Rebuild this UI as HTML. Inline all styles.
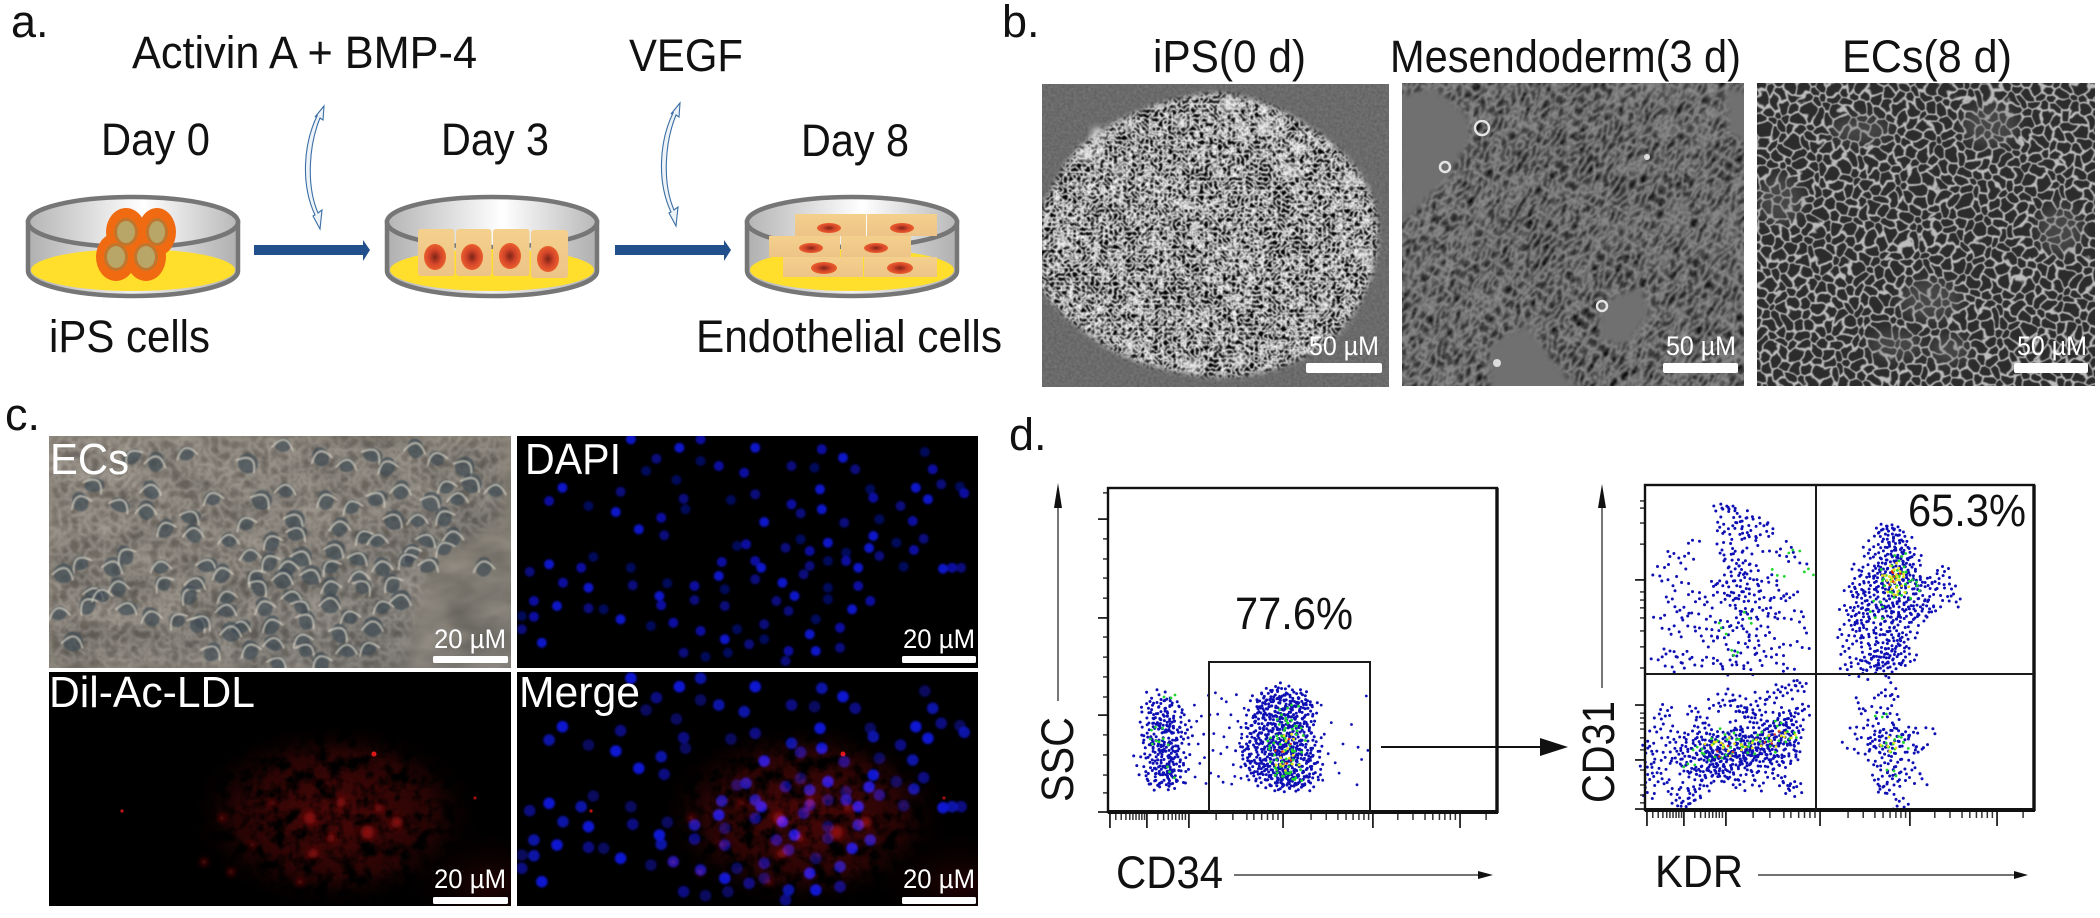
<!DOCTYPE html>
<html lang="en">
<head>
<meta charset="utf-8">
<title>iPS cell differentiation into endothelial cells</title>
<style>
html,body{margin:0;padding:0;background:#fff;width:2100px;height:918px;overflow:hidden}
svg{display:block}
text{font-family:"Liberation Sans",Arial,sans-serif;fill:#111}
.lbl{font-size:45px}
.w{fill:#fff;font-size:44px}
.sb{fill:#fff;font-size:27px}
</style>
</head>
<body>
<svg id="figure" xmlns="http://www.w3.org/2000/svg" width="2100" height="918" viewBox="0 0 2100 918">
<defs>
  <linearGradient id="wall" x1="0" x2="1" y1="0" y2="0"><stop offset="0" stop-color="#b0b0b0"/><stop offset=".5" stop-color="#f0f0f0"/><stop offset="1" stop-color="#b0b0b0"/></linearGradient>
  <linearGradient id="inner" x1="0" x2="1" y1="0" y2="0"><stop offset="0" stop-color="#b5b5b5"/><stop offset=".55" stop-color="#fff"/><stop offset="1" stop-color="#b8b8b8"/></linearGradient>
  <linearGradient id="beige" x1="0" x2="0" y1="0" y2="1"><stop offset="0" stop-color="#f4d08c"/><stop offset="1" stop-color="#edc488"/></linearGradient>
  <linearGradient id="ecbg" x1="0" x2="1" y1="0" y2="1"><stop offset="0" stop-color="#9a9284"/><stop offset=".5" stop-color="#878174"/><stop offset="1" stop-color="#7a7872"/></linearGradient>
  <radialGradient id="nucR"><stop offset="0" stop-color="#7c2416"/><stop offset=".55" stop-color="#d4452a"/><stop offset="1" stop-color="#ea5f2c"/></radialGradient>
  <radialGradient id="glowR"><stop offset="0" stop-color="#4a0707"/><stop offset=".65" stop-color="#280404"/><stop offset="1" stop-color="#000" stop-opacity="0"/></radialGradient>
  <radialGradient id="glowC"><stop offset="0" stop-color="#240303"/><stop offset="1" stop-color="#000" stop-opacity="0"/></radialGradient>

  <filter id="b1" x="-20%" y="-20%" width="140%" height="140%"><feGaussianBlur stdDeviation="1"/></filter>
  <filter id="b07" x="-10%" y="-10%" width="120%" height="120%"><feGaussianBlur stdDeviation=".8"/></filter>
  <filter id="b3" x="-50%" y="-50%" width="200%" height="200%"><feGaussianBlur stdDeviation="3"/></filter>
  <filter id="b6" x="-50%" y="-50%" width="200%" height="200%"><feGaussianBlur stdDeviation="6"/></filter>

  <filter id="netColony" x="0" y="0" width="100%" height="100%" color-interpolation-filters="sRGB">
    <feTurbulence type="turbulence" baseFrequency=".22" numOctaves="3" seed="7"/>
    <feColorMatrix type="matrix" values="-2.2 0 0 0 1.2  -2.2 0 0 0 1.2  -2.2 0 0 0 1.2  0 0 0 0 1"/>
    <feGaussianBlur stdDeviation=".6"/>
  </filter>
  <filter id="grain" x="0" y="0" width="100%" height="100%" color-interpolation-filters="sRGB">
    <feTurbulence type="fractalNoise" baseFrequency=".35" numOctaves="2" seed="3"/>
    <feColorMatrix type="matrix" values=".5 0 0 0 .18  .5 0 0 0 .18  .5 0 0 0 .18  0 0 0 0 1"/>
  </filter>
  <filter id="netMeso" x="-20%" y="-20%" width="140%" height="140%" color-interpolation-filters="sRGB">
    <feTurbulence type="turbulence" baseFrequency=".18 .09" numOctaves="2" seed="11"/>
    <feColorMatrix type="matrix" values="-.72 0 0 0 .58  -.72 0 0 0 .58  -.72 0 0 0 .58  0 0 0 0 1"/>
    <feGaussianBlur stdDeviation=".7"/>
  </filter>
  <filter id="warp" x="-5%" y="-5%" width="110%" height="110%" color-interpolation-filters="sRGB">
    <feTurbulence type="fractalNoise" baseFrequency=".05" numOctaves="2" seed="5" result="n"/>
    <feDisplacementMap in="SourceGraphic" in2="n" scale="20" xChannelSelector="R" yChannelSelector="G"/>
    <feGaussianBlur stdDeviation=".55"/>
  </filter>
  <filter id="ecNoise" x="0" y="0" width="100%" height="100%" color-interpolation-filters="sRGB">
    <feTurbulence type="fractalNoise" baseFrequency=".02 .04" numOctaves="3" seed="9"/>
    <feColorMatrix type="matrix" values="1.5 0 0 0 -.3  1.4 0 0 0 -.28  1.3 0 0 0 -.25  0 0 0 0 .16"/>
  </filter>
  <filter id="ecFine" x="0" y="0" width="100%" height="100%" color-interpolation-filters="sRGB">
    <feTurbulence type="turbulence" baseFrequency=".1" numOctaves="2" seed="21"/>
    <feColorMatrix type="matrix" values="-1.6 0 0 0 .85  -1.6 0 0 0 .85  -1.5 0 0 0 .86  0 0 0 0 1"/>
    <feGaussianBlur stdDeviation=".7"/>
  </filter>
  <filter id="mottle" x="-10%" y="-10%" width="120%" height="120%" color-interpolation-filters="sRGB">
    <feTurbulence type="fractalNoise" baseFrequency=".07" numOctaves="3" seed="4"/>
    <feColorMatrix type="matrix" values="0 0 0 0 0 0 0 0 0 0 0 0 0 0 0 3.2 0 0 0 -.9"/>
    <feComposite in="SourceGraphic" operator="in"/>
  </filter>

  <mask id="colonyMask" maskUnits="userSpaceOnUse" x="1042" y="84" width="347" height="303">
    <path d="M1219,93 C1260,96 1300,118 1330,142 C1358,165 1378,195 1378,228 C1380,270 1362,305 1341,330 C1310,362 1262,378 1216,377 C1170,374 1128,362 1100,343 C1070,322 1040,300 1030,262 C1030,225 1052,180 1076,150 C1110,118 1170,94 1219,93 Z" fill="#fff" filter="url(#b3)"/>
  </mask>
  <mask id="ecColonyMask" maskUnits="userSpaceOnUse" x="49" y="436" width="462" height="232">
    <path d="M49,436 H505 L500,520 L430,560 L400,668 H49 Z" fill="#fff" filter="url(#b6)"/>
  </mask>
  <clipPath id="clipB1"><rect x="1042" y="84" width="347" height="303"/></clipPath>
  <clipPath id="clipB2"><rect x="1402" y="83" width="342" height="303"/></clipPath>
  <clipPath id="clipB3"><rect x="1757" y="83" width="338" height="303"/></clipPath>
  <clipPath id="clipC1"><rect x="49" y="436" width="462" height="232"/></clipPath>
  <clipPath id="clipC2"><rect x="517" y="436" width="461" height="232"/></clipPath>
  <clipPath id="clipC3"><rect x="49" y="672" width="462" height="234"/></clipPath>
  <clipPath id="clipC4"><rect x="517" y="672" width="461" height="234"/></clipPath>

  <pattern id="honey" patternUnits="userSpaceOnUse" width="20" height="12" patternTransform="rotate(-14)">
    <rect width="20" height="12" fill="#2c2c2c"/>
    <path d="M0,6 L3.5,0 L10,0 L13.5,6 L10,12 L3.5,12 Z M13.5,6 L20,6" fill="none" stroke="#bdbdbd" stroke-width="1.9"/>
  </pattern>

  <g id="dishBase">
    <path d="M28,222 V271 A105,25 0 0 0 238,271 V222 Z" fill="url(#wall)" stroke="#767676" stroke-width="4.5"/>
    <ellipse cx="133" cy="222" rx="105" ry="25" fill="url(#inner)" stroke="#767676" stroke-width="4.5"/>
    <ellipse cx="133" cy="270" rx="102" ry="21" fill="#ffdf2c"/>
  </g>
  <path id="curveArrow" d="M324,106 L323,120 L320,118 C309,145 306,185 318,213 L322,210 L320,229 L313,216 L315,215 C301,185 303,145 317,116 L315,117 Z" fill="#eef3f8" stroke="#3a6ea5" stroke-width="1.1"/>
  <polygon id="navyArrow" points="254,245 363,245 363,240 370,250 363,261 363,255 254,255" fill="#22508c"/>

  <g id="redField">
    <ellipse cx="335" cy="815" rx="150" ry="95" fill="url(#glowR)" filter="url(#mottle)"/>
    <ellipse cx="490" cy="885" rx="90" ry="60" fill="url(#glowC)"/>
    <g fill="#8c0c0c" filter="url(#b3)">
      <circle cx="341" cy="802" r="5"/><circle cx="310" cy="818" r="6"/><circle cx="367" cy="832" r="7"/><circle cx="397" cy="822" r="6"/>
      <circle cx="313" cy="853" r="5"/><circle cx="273" cy="803" r="3"/><circle cx="331" cy="838" r="4"/><circle cx="222" cy="818" r="3"/>
      <circle cx="204" cy="862" r="3"/><circle cx="300" cy="882" r="3"/><circle cx="231" cy="872" r="3"/><circle cx="252" cy="845" r="3"/><circle cx="379" cy="808" r="4"/>
    </g>
    <circle cx="374" cy="754" r="2.5" fill="#e01818"/><circle cx="122" cy="811" r="1.6" fill="#c01414"/><circle cx="475" cy="798" r="1.6" fill="#a01010"/>
  </g>
</defs>

<rect width="2100" height="918" fill="#fff"/>

<!-- PANEL A -->
<g>
  <text class="lbl" x="11" y="37">a.</text>
  <text class="lbl" x="132" y="68" textLength="345" lengthAdjust="spacingAndGlyphs">Activin A + BMP-4</text>
  <text class="lbl" x="629" y="71" textLength="114" lengthAdjust="spacingAndGlyphs">VEGF</text>
  <text class="lbl" x="101" y="155" textLength="109" lengthAdjust="spacingAndGlyphs">Day 0</text>
  <text class="lbl" x="441" y="155" textLength="108" lengthAdjust="spacingAndGlyphs">Day 3</text>
  <text class="lbl" x="801" y="156" textLength="108" lengthAdjust="spacingAndGlyphs">Day 8</text>

  <use href="#curveArrow"/>
  <use href="#curveArrow" transform="translate(356,-3)"/>
  <use href="#navyArrow"/>
  <use href="#navyArrow" transform="translate(361,0)"/>

  <g>
    <use href="#dishBase"/>
    <g fill="#f06a12">
      <ellipse cx="126" cy="232" rx="20" ry="24"/><ellipse cx="157" cy="232" rx="19" ry="24"/>
      <ellipse cx="116" cy="257" rx="20" ry="24"/><ellipse cx="146" cy="257" rx="20" ry="24"/>
    </g>
    <g fill="#c0762c"><ellipse cx="126" cy="232" rx="12" ry="14"/><ellipse cx="157" cy="232" rx="11" ry="14"/><ellipse cx="116" cy="257" rx="12" ry="14"/><ellipse cx="146" cy="257" rx="12" ry="14"/></g>
    <g fill="#b8a668"><ellipse cx="126" cy="232" rx="9" ry="11"/><ellipse cx="157" cy="232" rx="8" ry="11"/><ellipse cx="116" cy="257" rx="9" ry="11"/><ellipse cx="146" cy="257" rx="9" ry="11"/></g>
  </g>
  <g>
    <use href="#dishBase" transform="translate(359,0)"/>
    <g fill="url(#beige)"><rect x="418" y="229" width="36.5" height="47" rx="3"/><rect x="456" y="229" width="35.5" height="47" rx="3"/><rect x="493" y="229" width="36.5" height="47" rx="3"/><rect x="531" y="230" width="37" height="48" rx="3"/></g>
    <g fill="url(#nucR)"><ellipse cx="435" cy="257" rx="11" ry="13"/><ellipse cx="472" cy="257" rx="11" ry="13"/><ellipse cx="510" cy="256" rx="11" ry="13"/><ellipse cx="548" cy="259" rx="11" ry="13"/></g>
  </g>
  <g>
    <use href="#dishBase" transform="translate(719,0)"/>
    <g fill="url(#beige)"><rect x="795" y="214" width="71" height="22"/><rect x="867" y="214" width="70" height="22"/><rect x="769" y="236" width="71" height="21"/><rect x="841" y="236" width="70" height="21"/><rect x="783" y="257" width="80" height="20"/><rect x="864" y="257" width="73" height="20"/></g>
    <g fill="url(#nucR)"><ellipse cx="829" cy="228" rx="12" ry="5"/><ellipse cx="902" cy="228" rx="12" ry="5"/><ellipse cx="811" cy="248" rx="12" ry="5"/><ellipse cx="876" cy="248" rx="12" ry="5"/><ellipse cx="824" cy="268" rx="13" ry="6"/><ellipse cx="900" cy="268" rx="13" ry="6"/></g>
  </g>
  <text class="lbl" x="49" y="352" textLength="161" lengthAdjust="spacingAndGlyphs">iPS cells</text>
  <text class="lbl" x="696" y="352" textLength="306" lengthAdjust="spacingAndGlyphs">Endothelial cells</text>
</g>

<!-- PANEL B -->
<g>
  <text class="lbl" x="1002" y="37">b.</text>
  <text class="lbl" x="1153" y="72" textLength="153" lengthAdjust="spacingAndGlyphs">iPS(0 d)</text>
  <text class="lbl" x="1390" y="72" textLength="351" lengthAdjust="spacingAndGlyphs">Mesendoderm(3 d)</text>
  <text class="lbl" x="1842" y="72" textLength="170" lengthAdjust="spacingAndGlyphs">ECs(8 d)</text>

  <g clip-path="url(#clipB1)">
    <rect x="1042" y="84" width="347" height="303" fill="#6a6a6a"/>
    <rect x="1042" y="84" width="347" height="303" filter="url(#grain)" opacity=".25"/>
    <g mask="url(#colonyMask)"><rect x="1042" y="84" width="347" height="303" filter="url(#netColony)"/></g>
    <g fill="#eee" filter="url(#b3)" opacity=".65">
      <circle cx="1097" cy="133" r="6"/><circle cx="1087" cy="155" r="8"/><circle cx="1118" cy="170" r="6"/><circle cx="1228" cy="105" r="8"/><circle cx="1265" cy="125" r="6"/><circle cx="1290" cy="170" r="7"/><circle cx="1350" cy="180" r="8"/><circle cx="1363" cy="255" r="7"/><circle cx="1325" cy="305" r="6"/><circle cx="1130" cy="345" r="6"/><circle cx="1195" cy="365" r="7"/><circle cx="1240" cy="360" r="7"/><circle cx="1060" cy="240" r="5"/><circle cx="1180" cy="122" r="6"/>
    </g>
  </g>
  <rect x="1306" y="363" width="76" height="10" rx="2" fill="#fff"/>
  <text class="sb" x="1309" y="355" textLength="70" lengthAdjust="spacingAndGlyphs">50 µM</text>

  <g clip-path="url(#clipB2)">
    <rect x="1402" y="83" width="342" height="303" fill="#6a6a6a"/>
    <rect x="1340" y="30" width="470" height="420" transform="rotate(32 1573 235)" filter="url(#netMeso)"/>
    <g fill="#707070" filter="url(#b3)">
      <path d="M1398,95 L1435,88 L1468,115 L1470,140 L1450,175 L1400,225 Z"/>
      <path d="M1490,345 L1525,325 L1570,380 L1590,395 L1490,395 Z"/>
      <path d="M1600,305 L1640,285 L1650,315 L1625,345 L1600,340 Z"/>
      <path d="M1725,90 L1750,90 L1750,150 L1730,130 Z"/>
    </g>
    <g fill="none" stroke="#e4e4e4" stroke-width="2.5"><circle cx="1602" cy="306" r="5"/><circle cx="1445" cy="167" r="5"/><circle cx="1482" cy="128" r="7"/></g>
    <circle cx="1497" cy="363" r="4" fill="#ddd"/><circle cx="1647" cy="157" r="3" fill="#ddd"/>
  </g>
  <rect x="1663" y="363" width="75" height="10" rx="2" fill="#fff"/>
  <text class="sb" x="1666" y="355" textLength="70" lengthAdjust="spacingAndGlyphs">50 µM</text>

  <g clip-path="url(#clipB3)">
    <rect x="1757" y="83" width="338" height="303" fill="#555"/>
    <rect x="1730" y="60" width="390" height="350" fill="url(#honey)" filter="url(#warp)"/>
    <g fill="#6e6e6e" opacity=".4" filter="url(#b6)">
      <ellipse cx="1990" cy="125" rx="28" ry="20"/><ellipse cx="1860" cy="130" rx="30" ry="12"/><ellipse cx="1930" cy="300" rx="30" ry="20"/><ellipse cx="1895" cy="345" rx="26" ry="14"/><ellipse cx="1780" cy="200" rx="22" ry="24"/><ellipse cx="2060" cy="230" rx="22" ry="24"/><ellipse cx="1950" cy="350" rx="20" ry="14"/>
    </g>
  </g>
  <rect x="2014" y="363" width="74" height="10" rx="2" fill="#fff"/>
  <text class="sb" x="2017" y="355" textLength="70" lengthAdjust="spacingAndGlyphs">50 µM</text>
</g>

<!-- PANEL C -->
<g>
  <text class="lbl" x="5" y="430">c.</text>

  <g clip-path="url(#clipC1)">
    <rect x="49" y="436" width="462" height="232" fill="url(#ecbg)"/>
    <rect x="49" y="436" width="462" height="232" filter="url(#ecNoise)"/>
    <g mask="url(#ecColonyMask)"><rect x="49" y="436" width="462" height="232" filter="url(#ecFine)" opacity=".2"/></g>
    <g id="ecCells" filter="url(#b07)"></g>
  </g>
  <text class="w" x="50" y="474" textLength="79" lengthAdjust="spacingAndGlyphs">ECs</text>
  <rect x="433" y="656" width="75" height="7" rx="1.5" fill="#fff"/>
  <text class="sb" x="434" y="648" textLength="72" lengthAdjust="spacingAndGlyphs">20 µM</text>

  <g clip-path="url(#clipC2)">
    <rect x="517" y="436" width="461" height="232" fill="#000"/>
    <g id="dapiNuclei" filter="url(#b1)"></g>
  </g>
  <text class="w" x="525" y="474" textLength="96" lengthAdjust="spacingAndGlyphs">DAPI</text>
  <rect x="902" y="656" width="74" height="7" rx="1.5" fill="#fff"/>
  <text class="sb" x="903" y="648" textLength="72" lengthAdjust="spacingAndGlyphs">20 µM</text>

  <g clip-path="url(#clipC3)">
    <rect x="49" y="672" width="462" height="234" fill="#000"/>
    <use href="#redField"/>
  </g>
  <text class="w" x="49" y="707" textLength="206" lengthAdjust="spacingAndGlyphs">Dil-Ac-LDL</text>
  <rect x="433" y="897" width="75" height="7" rx="1.5" fill="#fff"/>
  <text class="sb" x="434" y="888" textLength="72" lengthAdjust="spacingAndGlyphs">20 µM</text>

  <g clip-path="url(#clipC4)">
    <rect x="517" y="672" width="461" height="234" fill="#000"/>
    <use href="#redField" transform="translate(469,0)"/>
    <g id="mergeNuclei" filter="url(#b1)" style="mix-blend-mode:screen"></g>
  </g>
  <text class="w" x="519" y="707" textLength="121" lengthAdjust="spacingAndGlyphs">Merge</text>
  <rect x="902" y="897" width="74" height="7" rx="1.5" fill="#fff"/>
  <text class="sb" x="903" y="888" textLength="72" lengthAdjust="spacingAndGlyphs">20 µM</text>
</g>

<!-- PANEL D -->
<g>
  <text class="lbl" x="1009" y="450">d.</text>
  <g id="plot1"></g>
  <g id="plot2"></g>

  <rect x="1209" y="662" width="161" height="150" fill="none" stroke="#1a1a1a" stroke-width="2"/>
  <text class="lbl" x="1235" y="629" textLength="118" lengthAdjust="spacingAndGlyphs">77.6%</text>
  <line x1="1816" y1="485" x2="1816" y2="810" stroke="#1a1a1a" stroke-width="2"/>
  <line x1="1645" y1="674" x2="2034" y2="674" stroke="#1a1a1a" stroke-width="2"/>
  <text class="lbl" x="1908" y="526" textLength="118" lengthAdjust="spacingAndGlyphs">65.3%</text>

  <g><line x1="1058" y1="500" x2="1058" y2="701" stroke="#555" stroke-width="1.6"/><polygon points="1058,483 1054,508 1062,508" fill="#111"/></g>
  <text class="lbl" transform="translate(1073,802) rotate(-90)" textLength="85" lengthAdjust="spacingAndGlyphs">SSC</text>
  <text class="lbl" x="1116" y="888" textLength="107" lengthAdjust="spacingAndGlyphs">CD34</text>
  <g><line x1="1234" y1="875" x2="1480" y2="875" stroke="#444" stroke-width="1.4"/><polygon points="1493,875 1478,871 1478,879" fill="#111"/></g>

  <g><line x1="1381" y1="747" x2="1545" y2="747" stroke="#111" stroke-width="2"/><polygon points="1568,747 1540,738 1540,756" fill="#111"/></g>

  <g><line x1="1602" y1="500" x2="1602" y2="688" stroke="#555" stroke-width="1.6"/><polygon points="1602,484 1598,508 1606,508" fill="#111"/></g>
  <text class="lbl" transform="translate(1614,803) rotate(-90)" textLength="102" lengthAdjust="spacingAndGlyphs">CD31</text>
  <text class="lbl" x="1655" y="887" textLength="88" lengthAdjust="spacingAndGlyphs">KDR</text>
  <g><line x1="1758" y1="875" x2="2016" y2="875" stroke="#444" stroke-width="1.4"/><polygon points="2028,875 2014,871 2014,879" fill="#111"/></g>
</g>
</svg>

<script>
// ---- shared log-axis ticks (channel units 0-1000) ----
const xMajorTicks=[5,100,208,450,681,905];
const xMinorTicks=[20,34,46,56,64,72,80,87,94,128,143,155,165,174,183,191,199,278,321,357,375,395,410,424,437,522,561,591,612,630,645,658,670,745,784,815,835,852,866,880,893,972];
const p1YMajorTicks=[904,599,299,0];
const p1YMinorTicks=[985,843,781,722,660,540,478,417,355,238,176,114,59];
const p2YMajorTicks=[708,323,154,3];
const p2YMinorTicks=[951,929,883,818,671,646,622,591,551,502,437,298,283,268,249,222,185,123,77,46,22];

// ---- CD34 / SSC events: flat [channel x, channel y] lists read by eye ----
const p1ClusterLeft=[88,262,96,198,104,320,92,140,112,351,118,288,124,232,108,176,131,362,136,310,142,268,128,204,116,150,122,118,138,92,146,344,152,296,158,250,134,184,148,136,156,102,164,330,170,280,166,222,144,162,172,186,160,118,178,340,184,262,176,148,190,212,186,108,196,300,200,168,126,338,110,232,100,290,130,256,140,220,150,200,154,172,162,160,168,244,174,204,180,170,182,128,114,128,120,96,106,86,128,82,142,116,150,84,166,88,176,94,134,142,124,170,116,196,120,258,134,286,148,320,160,352,172,310,188,232,194,150,204,254,92,222,84,170,98,112,156,228,146,246,138,170,152,148,164,196,158,280,142,300,128,304,112,316,170,130,132,118,144,98,118,210,106,254,126,150,160,138,136,202,176,228,168,164,154,126,147,188,139,244,163,212,151,268,131,222,157,190,169,296,145,282,127,276,121,184,137,132,153,112,173,112,181,246,167,264];
const p1ClusterRight=[400,352,412,366,424,340,436,372,448,358,456,380,468,342,478,370,490,350,500,362,514,320,526,296,518,260,530,232,522,190,534,150,528,118,516,96,506,84,492,92,478,80,462,88,448,78,430,90,416,84,404,100,392,118,380,96,372,140,364,172,356,210,368,242,378,276,388,310,398,290,410,318,420,300,432,322,444,304,456,326,466,308,480,328,492,312,504,292,512,270,504,246,496,222,508,200,498,176,510,150,502,126,490,112,476,104,462,110,446,100,432,112,418,108,406,132,396,150,386,176,378,200,388,228,400,254,412,274,424,258,436,282,448,262,460,284,470,264,482,290,494,268,486,240,474,222,484,198,472,178,486,156,474,136,460,130,448,146,436,130,422,150,410,170,402,196,414,214,426,232,438,212,450,236,462,214,458,186,444,172,430,190,418,190,436,160,452,160,466,160,480,212,468,244,454,252,440,244,428,200,412,240,398,216,390,260,376,160,368,120,352,148,346,186,360,258,374,296,384,340,396,328,408,346,426,356,442,336,458,346,472,316,488,332,502,334,520,340,526,172,532,206,520,140,508,108,494,100,470,122,455,118,441,122,425,122,410,148,394,134,382,212,405,284,417,286,430,270,445,222,472,196,458,204,446,200,433,176,421,176,442,292,464,296,486,276,476,250,490,180,478,166,438,100,452,122,466,96,484,84];
const p1Sparse=[222,330,232,210,240,296,248,168,258,360,264,120,272,242,282,302,290,180,296,92,304,340,312,260,322,146,330,362,338,212,224,108,252,88,276,368,318,86,342,104,214,262,298,232,548,330,556,240,566,180,574,276,584,152,594,120,604,210,626,270,540,108,552,98,652,162,643,200,668,190,640,84,664,358,228,280,236,150,246,240,262,300,270,190,284,110,292,350,306,200,316,300,326,110,334,280,344,240,350,320];
const p1GreenEvents=[446,300,462,274,474,256,452,232,468,208,480,188,458,164,444,140,470,124,486,250,436,226,490,146,428,176,456,190,472,330,462,120,440,270,416,204,448,110,502,236,430,136,480,100,122,262,142,226,158,124,114,210,162,352];
const p1HotEvents=[458,220,466,166,450,142,472,240,456,128,474,148,462,196,444,168];
const p1RedEvents=[470,210,460,150,448,186];

// ---- KDR / CD31 events ----
const p2UpperLeft=[182,920,200,926,216,926,232,928,228,900,244,902,260,898,236,884,250,872,192,870,204,856,218,848,244,848,276,902,296,882,316,884,272,860,256,836,286,838,220,820,198,800,206,772,232,796,262,806,290,814,318,842,338,794,364,780,376,808,398,760,122,830,112,790,92,760,64,780,50,746,38,720,72,690,94,700,122,672,140,650,160,640,176,688,200,690,222,720,248,740,270,712,300,704,326,724,344,676,362,644,382,662,402,610,410,560,404,500,186,670,206,648,232,630,258,656,284,640,312,620,336,604,358,590,120,606,100,624,82,610,60,640,40,590,62,556,88,548,110,566,140,560,168,596,150,520,176,520,190,552,212,580,246,602,272,590,298,566,320,546,214,494,236,474,258,512,282,498,306,488,338,478,356,510,108,488,80,472,54,480,34,462,70,440,96,452,128,446,158,470,186,460,200,434,224,446,254,444,272,432,296,460,338,452,366,436,222,670,236,690,250,672,262,726,286,752,216,748,240,770,252,760,228,668,268,680,246,706,232,742,210,702,292,690,306,654,258,620,274,612,240,576,226,552,204,530,286,536,262,548,316,596,332,654,242,660];
const p2UpperRight=[506,540,514,488,518,614,530,672,550,738,556,620,574,790,588,810,600,852,612,864,626,858,640,862,654,846,668,842,676,808,692,786,610,826,628,818,644,820,660,806,676,770,690,756,708,716,720,700,738,700,756,712,770,734,788,680,800,640,760,660,742,628,712,612,702,650,690,586,672,596,652,536,636,494,620,468,600,452,580,440,564,470,544,520,530,568,540,598,552,552,574,512,590,488,608,500,622,524,640,560,656,580,672,640,688,680,664,706,648,640,634,606,616,580,600,610,584,640,566,660,552,694,570,716,586,736,600,760,618,782,634,796,650,784,664,764,676,738,690,712,702,690,714,660,724,628,600,688,616,668,636,676,654,700,672,668,690,628,704,600,682,548,666,516,648,472,630,440,614,428,588,576,572,604,558,636,544,670,608,724,624,744,640,766,656,744,672,724,624,700,644,712,660,734,604,640,620,612,636,578,652,608,666,632,590,700,576,680,598,728,610,760,626,628,644,656,586,612,570,556,556,584,638,530,654,506,624,480,612,540,594,530,606,470,640,450,664,460,680,480,582,464,560,420,548,450,520,432];
const p2LowerLeft=[6,54,12,94,6,132,12,196,20,172,36,128,44,96,70,66,52,162,64,208,30,240,42,280,58,306,84,240,92,190,78,160,100,120,118,150,132,110,146,90,160,74,110,66,124,46,80,30,94,22,116,20,130,56,150,118,172,104,186,136,200,120,214,96,228,110,244,78,262,136,278,106,294,74,310,116,326,142,342,106,356,84,372,60,390,72,110,180,124,214,140,240,152,192,166,172,178,208,192,178,206,224,220,156,234,206,248,182,258,228,270,186,284,238,296,176,308,220,320,258,332,196,346,240,358,278,370,218,382,262,394,296,410,310,396,238,384,196,370,166,356,146,340,168,326,200,312,250,300,292,288,268,274,284,260,302,246,256,232,252,218,222,204,188,190,210,176,232,162,154,148,216,134,170,120,128,106,208,92,156,170,150,182,118,196,150,208,182,222,130,236,162,250,142,264,170,278,154,292,202,306,186,320,228,334,164,348,206,362,246,376,290,160,200,174,176,188,164,202,140,216,172,230,186,244,148,258,160,272,210,286,222,300,200,314,170,328,232,342,282,356,300,368,254,150,172,164,132,178,158,192,104,206,170,220,194,234,230,248,214,262,186,276,176,290,164,304,150,318,188,332,222,346,262,360,224,374,200,388,170,252,300,238,318,272,324,296,344,320,348,342,370,366,360,388,382,404,380,226,354,200,338,176,322,142,286,120,304,154,252];
const p2LowerRight=[548,330,556,296,562,252,574,220,586,258,596,300,600,354,618,370,632,392,640,340,624,312,648,294,636,268,652,244,614,248,602,226,590,196,578,186,566,172,592,150,604,176,618,206,630,230,642,214,656,196,668,216,680,230,696,252,690,200,674,178,660,156,644,174,632,152,616,172,606,136,624,120,638,124,654,114,668,126,680,100,694,130,702,178,716,192,740,250,650,88,636,96,622,80,610,104,590,92,604,64,618,52,640,48,540,234,520,190,648,12,664,36,712,96,610,228,622,194,636,190,648,226,660,232,604,200,590,232,600,266];
const p2GreenEvents=[640,736,654,722,632,708,648,690,666,748,620,722,680,704,670,670,616,690,640,654,660,780,606,640,700,690,592,592,110,142,134,194,152,172,176,204,198,160,220,192,242,218,264,176,278,214,300,240,322,196,340,258,362,210,384,238,206,232,248,198,620,206,652,226,664,208,632,178,610,286,640,120,268,590,340,722,380,800,420,742,196,560,228,476];
const p2HotEvents=[636,736,646,724,654,708,628,718,642,700,660,690,650,672,634,680,652,744,622,706,172,200,196,206,214,182,230,204,258,194,286,216,324,214,350,228,376,222,624,196,640,206];
const p2RedEvents=[640,718,628,694,656,726,186,180,226,178,308,208,344,242];

// ---- microscope field readings (crop coordinates measured on the reference) ----
const nucleiX=[862,958,905,840,950,1062,1065,1025,988,1030,913,893,840,808,975,863,905,978,1035,815,853,905,930,1025,1022,1080,795,815,958,795,1008,1045,828,1062,1098,1125,1120,1130,1150,1165,1195,1180,1140,1240,1290,1255,1050,1162,1180,1240,1278,1290,1325,1345,1460,1473,1445,1487,1518,1525,1465,1420,1370,1375,1287,1327,1385,1440,1375,1458,1413,1442,1368,1385,1425,1505,1490,1520,1330,1270,1300,1230,1255,1180,1190,1270,1300,1330,1350,1260,1300,1350,1225,1180,1130,1080,1245,1215,1300,1370,1340,1235,1280,1320,1270,1195,1150,1090,1130,1170,1195,1235,1280,1320,1135,1090,1055,1017,1090,1120,975,1230,1000];
const nucleiY=[185,197,240,225,258,218,250,275,310,328,393,425,415,437,425,470,485,478,472,525,540,547,550,538,510,522,570,572,580,610,600,590,650,680,692,408,450,540,360,355,288,205,222,235,250,262,162,140,65,120,125,70,95,130,78,130,185,175,182,202,220,240,190,215,190,290,280,285,330,338,350,372,366,390,422,425,428,425,380,375,350,365,340,405,425,420,405,405,425,445,485,480,470,460,490,480,510,525,520,525,550,555,580,605,625,595,610,615,640,655,640,675,675,665,680,40,65,98,105,120,40,705,135];
const ecCellX=[280,330,395,525,600,680,790,880,925,985,735,820,200,320,450,555,605,690,800,850,945,1000,1050,170,255,310,745,915,970,350,405,410,520,625,485,575,630,720,770,835,885,940,905,960,940,710,800,870,760,810,860,640,530,570,440,610,700,660,760,830,910,1025,170,240,340,265,200,250,345,135,125,185,270,320,375,155,215,400,415,470,540,600,480,550,620,700,770,850,810,420,480,560,640,700,740,650,510,575,430,490,640,720,580,530,650,790,780,450,735,680,590];
const ecCellY=[410,425,400,430,375,410,405,385,415,440,435,440,495,510,535,540,510,540,535,510,500,490,510,545,555,570,560,545,535,625,590,640,610,600,660,665,640,620,650,600,600,590,660,650,685,690,660,700,715,740,720,710,705,725,735,740,740,765,770,790,735,740,730,740,740,705,820,800,790,760,880,855,865,890,900,965,825,825,790,760,770,775,830,800,830,800,800,840,860,910,870,860,860,850,890,900,920,915,905,935,960,940,970,990,990,920,985,995,990,1025,1030];

// ---- rendering ----
const NS='http://www.w3.org/2000/svg';
function plotAxes(left,top,right,bottom){
  return {
    left:left,top:top,right:right,bottom:bottom,
    x:function(v){return left+v/1000*(right-left);},
    y:function(v){return bottom-v/1000*(bottom-top);}
  };
}
function addLine(parent,x1,y1,x2,y2,w,col){
  const el=document.createElementNS(NS,'line');
  el.setAttribute('x1',x1);el.setAttribute('y1',y1);el.setAttribute('x2',x2);el.setAttribute('y2',y2);
  el.setAttribute('stroke',col);el.setAttribute('stroke-width',w);
  parent.appendChild(el);
  return el;
}
function drawTicks(parent,ax,yMajor,yMinor){
  xMajorTicks.forEach(function(v){
    const el=addLine(parent,ax.x(v),ax.bottom,ax.x(v),ax.bottom+16,1.8,'#222');
    
    
  });
  xMinorTicks.forEach(function(v){
    const el=addLine(parent,ax.x(v),ax.bottom,ax.x(v),ax.bottom+8,1.5,'#333');
    
    
  });
  yMajor.forEach(function(v){
    const el=addLine(parent,ax.left-10,ax.y(v),ax.left,ax.y(v),1.8,'#222');
    
    
  });
  yMinor.forEach(function(v){
    const el=addLine(parent,ax.left-5,ax.y(v),ax.left,ax.y(v),1.5,'#333');
    
    
  });
}
// Each listed reading is drawn as a small stipple of dots, since the source plot holds thousands of events.
function drawEvents(parent,ax,list,color,r,copies,name){
  const stipple=[[0,0],[4,-3],[-4,3],[2,5],[-2,-5],[7,1],[-7,-1],[5,6],[-5,-6]];
  const g=document.createElementNS(NS,'g');
  
  
  g.setAttribute('fill',color);
  for(let i=0;i+1<list.length;i+=2){
    const px=ax.x(list[i]), py=ax.y(list[i+1]);
    for(let k=0;k<copies;k++){
      const o=k===0?stipple[0]:stipple[1+((i/2*5+k*3)%8)];
      const c=document.createElementNS(NS,'circle');
      c.setAttribute('cx',(px+o[0]).toFixed(1));
      c.setAttribute('cy',(py+o[1]).toFixed(1));
      c.setAttribute('r',r);
      g.appendChild(c);
    }
  }
  parent.appendChild(g);
}
function drawFrame(parent,ax){
  const f=document.createElementNS(NS,'rect');
  f.setAttribute('x',ax.left);f.setAttribute('y',ax.top);
  f.setAttribute('width',ax.right-ax.left);f.setAttribute('height',ax.bottom-ax.top);
  f.setAttribute('fill','none');f.setAttribute('stroke','#111');f.setAttribute('stroke-width','2.4');
  
  
  parent.appendChild(f);
  addLine(parent,ax.left,ax.bottom,ax.right+1,ax.bottom,4,'#111');
  addLine(parent,ax.right,ax.top,ax.right,ax.bottom+1,3.4,'#111');
}
const blue='#0f10b4',green='#1fd630',hot='#e6e01e',red='#e0301c';
const ax1=plotAxes(1108,488,1497,812);
const ax2=plotAxes(1645,485,2034,810);
const plot1=document.getElementById('plot1');
const plot2=document.getElementById('plot2');
drawEvents(plot1,ax1,p1ClusterLeft,blue,1.5,3,'cd34-negative-events');
drawEvents(plot1,ax1,p1ClusterRight,blue,1.5,5,'cd34-positive-events');
drawEvents(plot1,ax1,p1Sparse,blue,1.4,1,'sparse-events');
drawEvents(plot1,ax1,p1GreenEvents,green,1.4,3,'medium-density-events');
drawEvents(plot1,ax1,p1HotEvents,hot,1.4,2,'high-density-events');
drawEvents(plot1,ax1,p1RedEvents,red,1.2,2,'peak-density-events');
drawTicks(plot1,ax1,p1YMajorTicks,p1YMinorTicks);
drawFrame(plot1,ax1);
drawEvents(plot2,ax2,p2UpperLeft,blue,1.5,3,'upper-left-events');
drawEvents(plot2,ax2,p2UpperRight,blue,1.5,5,'upper-right-events');
drawEvents(plot2,ax2,p2LowerLeft,blue,1.5,5,'lower-left-events');
drawEvents(plot2,ax2,p2LowerRight,blue,1.5,3,'lower-right-events');
drawEvents(plot2,ax2,p2GreenEvents,green,1.4,3,'medium-density-events');
drawEvents(plot2,ax2,p2HotEvents,hot,1.4,3,'high-density-events');
drawEvents(plot2,ax2,p2RedEvents,red,1.2,2,'peak-density-events');
drawTicks(plot2,ax2,p2YMajorTicks,p2YMinorTicks);
drawFrame(plot2,ax2);

function drawNuclei(id,dy,fill,r){
  const host=document.getElementById(id);
  const levels=[1,.62,.45,.8];
  nucleiX.forEach(function(nx,i){
    const c=document.createElementNS(NS,'circle');
    c.setAttribute('cx',(40+nx/1.65).toFixed(1));
    c.setAttribute('cy',(665+nucleiY[i]/3+dy).toFixed(1));
    c.setAttribute('r',r);
    c.setAttribute('fill',fill);
    c.setAttribute('opacity',levels[i%4]);
    
    
    host.appendChild(c);
  });
}
drawNuclei('dapiNuclei',-239,'#0c14c8',5);
drawNuclei('mergeNuclei',0,'#1018d0',5.8);

const cellHost=document.getElementById('ecCells');
ecCellX.forEach(function(cx,i){
  const px=cx/2.119, py=320+ecCellY[i]/3;
  const body=document.createElementNS(NS,'ellipse');
  body.setAttribute('cx',px.toFixed(1));body.setAttribute('cy',py.toFixed(1));
  body.setAttribute('rx',i%3===0?10:8);body.setAttribute('ry',i%2===0?7:10);
  body.setAttribute('fill','#3e4a52');body.setAttribute('opacity','.68');
  body.setAttribute('transform','rotate('+((i*37)%60-30)+' '+px.toFixed(1)+' '+py.toFixed(1)+')');
  
  
  cellHost.appendChild(body);
  const rim=document.createElementNS(NS,'path');
  rim.setAttribute('d','M'+(px-11).toFixed(1)+','+(py+5).toFixed(1)+' Q'+px.toFixed(1)+','+(py-15).toFixed(1)+' '+(px+11).toFixed(1)+','+(py+4).toFixed(1));
  rim.setAttribute('fill','none');rim.setAttribute('stroke','#e6e2d6');rim.setAttribute('stroke-width','1.6');rim.setAttribute('opacity','.7');
  rim.setAttribute('transform','rotate('+((i*53)%80-40)+' '+px.toFixed(1)+' '+py.toFixed(1)+')');
  
  
  cellHost.appendChild(rim);
});
</script>
</body>
</html>
